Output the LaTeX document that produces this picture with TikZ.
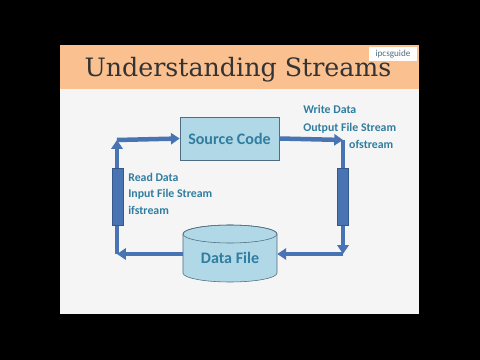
\documentclass[tikz,border=0pt]{standalone}
\usepackage{fontspec}
\setmainfont{Carlito}
\newfontfamily\titlefont{DejaVu Serif}
\usepackage{tikz}
\usetikzlibrary{
  arrows.meta,
  positioning,
  calc
}
\definecolor{slidebg}{RGB}{245,245,245}
\definecolor{bandorange}{RGB}{250,192,144}
\definecolor{flowblue}{RGB}{72,116,180}
\definecolor{pipeedge}{RGB}{52,88,140}
\definecolor{boxfill}{RGB}{176,216,230}
\definecolor{boxedge}{RGB}{80,108,130}
\definecolor{labelteal}{RGB}{49,125,160}

\begin{document}
\begin{tikzpicture}[
    x=0.025cm, y=-0.025cm,
    flow/.style={
      line width=3.2pt, draw=flowblue,
      -{Triangle[length=2.2mm,width=2.8mm]}
    },
    pipe/.style={
      rectangle, draw=pipeedge, fill=flowblue, inner sep=0pt,
      minimum width=0.28cm, minimum height=1.42cm
    },
    codebox/.style={
      rectangle, draw=boxedge, fill=boxfill,
      minimum width=2.475cm, minimum height=1.075cm,
      font=\fontsize{11.4}{14}\selectfont\bfseries, text=labelteal
    },
    streamlbl/.style={
      align=left, inner sep=0pt,
      font=\fontsize{8.4}{11.9}\selectfont\bfseries, text=labelteal
    }
  ]

  %% Screen and slide
  \fill[black] (0,0) rectangle (480,360);
  \fill[slidebg] (60,45) rectangle (419,314);
  \fill[bandorange] (60,45) rectangle (419,89);

  %% Title
  \node[font=\titlefont\fontsize{18}{20}\selectfont, text=black!80,
        anchor=base, inner sep=0pt] (title) at (238,77)
    {Understanding Streams};
  \node[fill=white, inner sep=1pt, minimum width=1.2cm, minimum height=0.35cm,
        font=\fontsize{6.5}{7}\selectfont, text=boxedge] (brand) at (393,54)
    {ipcsguide};

  %% Source code box
  \node[codebox] (src) at (229.5,138.5) {Source Code};

  %% Data file cylinder
  \coordinate (dfc) at (230,253.5);
  \draw[boxedge, fill=boxfill]
    ($(dfc)+(-47,-19.5)$) -- ($(dfc)+(-47,19.5)$)
    arc[start angle=180, end angle=360, x radius=1.175cm, y radius=0.225cm]
    -- ($(dfc)+(47,-19.5)$)
    arc[start angle=0, end angle=180, x radius=1.175cm, y radius=0.225cm]
    -- cycle;
  \draw[boxedge] ($(dfc)+(0,-19.5)$)
    ellipse[x radius=1.175cm, y radius=0.225cm];
  \node[minimum width=2.35cm, inner sep=0pt,
        font=\fontsize{11.4}{14}\selectfont\bfseries, text=labelteal]
    (dfile) at ($(dfc)+(0,4.5)$) {Data File};

  %% Corners of the loop
  \coordinate (tl) at (117,140);
  \coordinate (bl) at (117,254);
  \coordinate (tr) at (343,140);
  \coordinate (br) at (343,254);

  %% Connectors
  \draw[flow] (bl) -- (tl);
  \draw[flow] (tl) -- (src.west);
  \draw[flow] (src.east) -- (tr);
  \draw[flow] (tr) -- (br);
  \draw[flow] (br) -- (dfile.east |- br);
  \draw[flow] (dfile.west |- bl) -- (bl);

  %% Stream pipes
  \node[pipe] (inpipe) at (117.5,196.5) {};
  \node[pipe] (outpipe) at (343,196.5) {};

  %% Stream labels
  \node[streamlbl, anchor=north west] (rdlbl) at (128,172.5)
    {Read Data\\Input File Stream\\ifstream};
  \node[streamlbl, anchor=north west, font=\fontsize{8.4}{12.6}\selectfont\bfseries]
    (wrlbl) at (303,105)
    {Write Data\\Output File Stream};
  \node[streamlbl, anchor=north east, xshift=-2, yshift=-5] (oflbl)
    at (wrlbl.south east) {ofstream};

\end{tikzpicture}
\end{document}
